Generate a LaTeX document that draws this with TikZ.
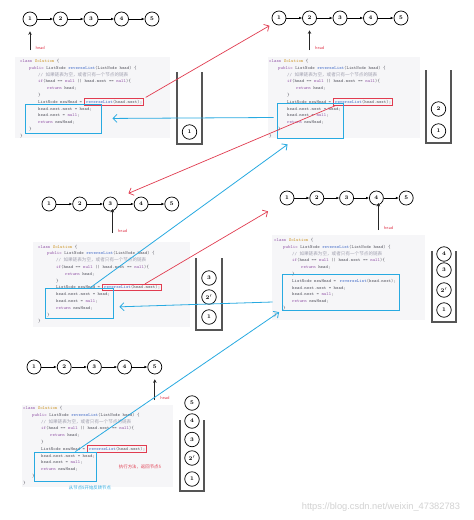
\documentclass[tikz,border=0pt]{standalone}
\usepackage{fontspec}
\newfontfamily\cjk{Noto Sans CJK SC}
\newfontfamily\wmfont{Liberation Sans}
\usetikzlibrary{arrows.meta, positioning, fit, calc}
\definecolor{callred}{RGB}{225,60,80}
\definecolor{retblue}{RGB}{40,170,225}
\definecolor{codebg}{RGB}{246,246,248}
\definecolor{codetext}{RGB}{85,85,95}
\definecolor{keyword}{RGB}{150,90,170}
\definecolor{classname}{RGB}{205,150,40}
\definecolor{funcname}{RGB}{70,110,200}
\definecolor{commentgray}{RGB}{160,160,175}
\definecolor{stackgray}{RGB}{85,85,85}
\newcommand{\kwd}[1]{\textcolor{keyword}{#1}}
\newcommand{\clsn}[1]{\textcolor{classname}{#1}}
\newcommand{\fnm}[1]{\textcolor{funcname}{#1}}

% five list nodes 1 -> 5
\newcommand{\linkedlist}[4]{%
  \foreach \i in {1,...,5}
    \node[lnode] (#1n\i) at ({#2+(\i-1)*#4},#3) {\i};
  \foreach \i/\j in {1/2,2/3,3/4,4/5}
    \draw[larrow] (#1n\i) -- (#1n\j);
}

% the java code, #4 = style of the recursive call
\newcommand{\recursioncode}[4]{%
  \node[code] (#1l1) at (#2,#3) {\kwd{class} \clsn{Solution} \{};
  \node[code] (#1l2) at ({#2+9},{#3+6.8}) {\kwd{public} ListNode \fnm{reverseList}(ListNode head) \{};
  \node[code, text=commentgray] (#1l3) at ({#2+18},{#3+13.6}) {// {\cjk 如果链表为空，或者只有一个节点的链表}};
  \node[code] (#1l4) at ({#2+18},{#3+20.4}) {\kwd{if}(head == \kwd{null} || head.next == \kwd{null})\{};
  \node[code] (#1l5) at ({#2+27},{#3+27.2}) {\kwd{return} head;};
  \node[code] (#1l6) at ({#2+18},{#3+34}) {\}};
  \node[code] (#1l7) at ({#2+18},{#3+40.8}) {ListNode newHead =};
  \node[code, #4] (#1r) at ([xshift=2pt]#1l7.base east) {\fnm{reverseList}(head.next);};
  \node[code] (#1l8) at ({#2+18},{#3+47.6}) {head.next.next = head;};
  \node[code] (#1l9) at ({#2+18},{#3+54.4}) {head.next = \kwd{null};};
  \node[code] (#1l10) at ({#2+18},{#3+61.2}) {\kwd{return} newHead;};
  \node[code] (#1l11) at ({#2+9},{#3+68}) {\}};
  \node[code] (#1l12) at (#2,{#3+74.8}) {\}};
}

\begin{document}
\begin{tikzpicture}[x=1pt, y=-1pt,
    lnode/.style={circle, draw, line width=0.7pt, minimum size=14pt, inner sep=0pt,
      font=\fontsize{5.5}{6}\selectfont\bfseries},
    snode/.style={lnode, minimum size=14.5pt},
    larrow/.style={-{Latex[length=3pt,width=2.6pt]}, line width=0.6pt},
    headarrow/.style={-{Stealth[length=3.5pt,width=3.5pt]}, line width=0.9pt, gray!30!black, shorten >=5pt},
    headlbl/.style={anchor=west, text=callred, font=\fontsize{4.5}{5}\sffamily},
    code/.style={anchor=base west, inner sep=0pt, text=codetext, font=\fontsize{4.6}{5}\ttfamily},
    callbox/.style={draw=callred, line width=0.8pt, inner sep=1.3pt},
    plain/.style={inner sep=1.3pt},
    retbox/.style={draw=retblue, line width=0.9pt, inner sep=0pt},
    stackwall/.style={stackgray, line width=1.1pt},
    redarrow/.style={callred, line width=0.7pt, -{Straight Barb[length=4pt,width=8pt]}},
    bluearrow/.style={retblue, line width=0.8pt, -{Straight Barb[length=4pt,width=8pt]}},
    note/.style={font=\fontsize{4.4}{5}\cjk}]

  \useasboundingbox[fill=white] (0,0) rectangle (474,520);

  % Code backgrounds
  \fill[codebg] (15,57) rectangle (170,138);
  \fill[codebg] (268,57) rectangle (420,138);
  \fill[codebg] (33,242) rectangle (190,327);
  \fill[codebg] (272,235) rectangle (425,320);
  \fill[codebg] (22,405) rectangle (173,487);

  % Step 1: head at node 1
  \linkedlist{a}{30}{19}{30.5}
  \coordinate (ha) at ($(an1)+(0,31)$);
  \draw[headarrow] (ha) -- (an1);
  \node[headlbl] at ([xshift=2pt,yshift=2pt]ha) {head};
  \recursioncode{a}{20}{62.5}{callbox}
  \node[retbox, fit={(25,104) (101,133)}] (ab) {};
  \draw[stackwall] (177,72) |- (202,144) -- (202,72);
  \node[snode] (as1) at (189.5,132) {1};

  % Step 2: head at node 2
  \linkedlist{b}{279}{18}{30.5}
  \coordinate (hb) at ($(bn2)+(0,32)$);
  \draw[headarrow] (hb) -- (bn2);
  \node[headlbl] at ([xshift=2pt,yshift=2pt]hb) {head};
  \recursioncode{b}{269}{62.5}{callbox}
  \node[retbox, fit={(277,103) (343,138)}] (bb) {};
  \draw[stackwall] (426,70) |- (451,143) -- (451,70);
  \node[snode] (bs2) at (438.5,109) {2};
  \node[snode] (bs1) at (438.5,131) {1};

  % Step 3: head at node 3
  \linkedlist{c}{49}{204}{30.7}
  \coordinate (hc) at ($(cn3)+(2,29)$);
  \draw[headarrow] (hc) -- ($(cn3)+(2,0)$);
  \node[headlbl] at ([xshift=2pt,yshift=2pt]hc) {head};
  \recursioncode{c}{38}{248}{callbox}
  \node[retbox, fit={(45,288) (113,318)}] (cb) {};
  \draw[stackwall] (196,258) |- (222,330) -- (222,258);
  \node[snode] (cs3) at (209,278) {3};
  \node[snode] (cs2) at (209,297) {2$'$};
  \node[snode] (cs1) at (209,317) {1};

  % Step 4: head at node 4
  \linkedlist{d}{287}{198}{29.8}
  \coordinate (hd) at ($(dn4)+(2,32)$);
  \draw[headarrow] (hd) -- ($(dn4)+(2,0)$);
  \node[headlbl] at ([xshift=2pt,yshift=2pt]hd) {head};
  \recursioncode{d}{274}{241.5}{plain}
  \node[retbox, fit={(282,274) (399,310)}] (db) {};
  \draw[stackwall] (432,251) |- (456,322) -- (456,251);
  \node[snode] (ds4) at (444,254) {4};
  \node[snode] (ds3) at (444,270) {3};
  \node[snode] (ds2) at (444,290) {2$'$};
  \node[snode] (ds1) at (444,310) {1};

  % Step 5: head at node 5
  \linkedlist{e}{34}{367}{30.2}
  \coordinate (he) at ($(en5)+(0,33)$);
  \draw[headarrow] (he) -- (en5);
  \node[headlbl] at ([xshift=2pt,yshift=2pt]he) {head};
  \recursioncode{e}{23}{409.5}{callbox}
  \node[retbox, fit={(34,452) (96,481)}] (eb) {};
  \draw[stackwall] (180,420) |- (204,491) -- (204,420);
  \node[snode] (es5) at (192,403) {5};
  \node[snode] (es4) at (192,421) {4};
  \node[snode] (es3) at (192,439.5) {3};
  \node[snode] (es2) at (192,458) {2$'$};
  \node[snode] (es1) at (192,479) {1};
  \node[note, text=callred] (ret5) at (140,467) {执行方法，返回节点5};
  \node[note, text=retblue] (from5) at (90,487.5) {从节点5开始反转节点};

  % Recursive calls
  \draw[redarrow, shorten <=2pt, shorten >=5pt] (ar.north east) -- (bn1.south west);
  \draw[redarrow, shorten >=14pt] ([xshift=2pt]br.south west) -- (cn3.north east);
  \draw[redarrow, shorten >=16pt] ([xshift=-17pt]cr.north east) -- (dn1.south west);

  % Returns
  \draw[bluearrow, shorten >=11pt] ([xshift=-3pt,yshift=3pt]bb.west) -- (ab.east);
  \draw[bluearrow] ([xshift=-23pt]cb.north east) -- ([xshift=11pt,yshift=-6pt]bb.south west);
  \draw[bluearrow, shorten >=6pt] ([xshift=-9pt,yshift=-10pt]db.west) -- ([yshift=-4pt]cb.east);
  \draw[bluearrow, shorten >=3pt] ([xshift=-21pt]eb.north east) -- (db.south west);

  % Watermark
  \node[text=gray!35, font=\fontsize{9.3}{10}\wmfont] (wm) at (381,507) {https://blog.csdn.net/weixin\_47382783};
\end{tikzpicture}
\end{document}
